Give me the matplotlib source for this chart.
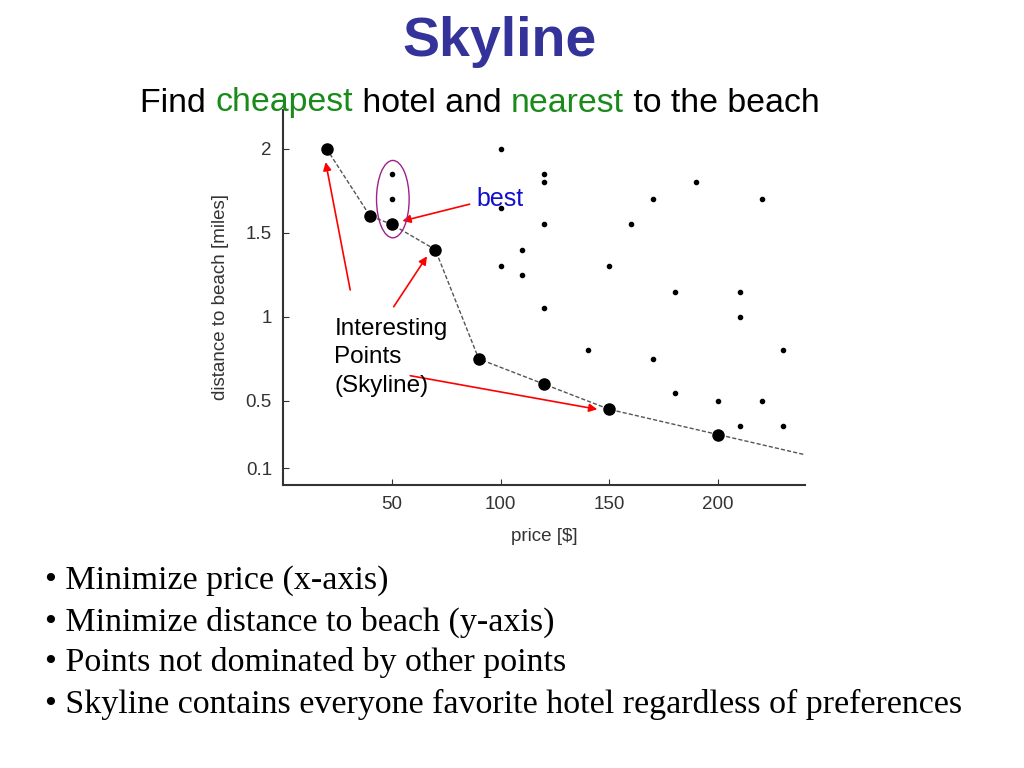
import matplotlib.pyplot as plt
from matplotlib.patches import Ellipse

# skyline hotels (price, distance)
sky_price = [20, 40, 50, 70, 90, 120, 150, 200]
sky_dist = [2.0, 1.6, 1.55, 1.4, 0.75, 0.6, 0.45, 0.3]
# dashed skyline runs on past the last hotel
line_price = sky_price + [240]
line_dist = sky_dist + [0.18]

# the other (dominated) hotels
other_price = [100, 50, 50, 120, 120, 190, 170, 220, 100, 120, 160, 110, 100, 110, 150,
               180, 210, 120, 210, 140, 230, 170, 180, 200, 220, 210, 230]
other_dist = [2.0, 1.85, 1.7, 1.85, 1.8, 1.8, 1.7, 1.7, 1.65, 1.55, 1.55, 1.4, 1.3, 1.25, 1.3,
              1.15, 1.15, 1.05, 1.0, 0.8, 0.8, 0.75, 0.55, 0.5, 0.5, 0.35, 0.35]

y_ticks = [0.1, 0.5, 1, 1.5, 2]
y_labels = ['0.1', '0.5', '1', '1.5', '2']
x_ticks = [50, 100, 150, 200]

subtitle = [('Find ', 'black'), ('cheapest', '#1a8a1a'), (' hotel and ', 'black'),
            ('nearest', '#1a8a1a'), (' to the beach', 'black')]

bullets = ['• Minimize price (x-axis)',
           '• Minimize distance to beach (y-axis)',
           '• Points not dominated by other points',
           '• Skyline contains everyone favorite hotel regardless of preferences']

plt.rcParams['font.family'] = ['Liberation Sans', 'DejaVu Sans']

fig = plt.figure(figsize=(10.24, 7.68), dpi=100)
W, H = 1024, 768
renderer = fig.canvas.get_renderer()

# title
fig.text(500 / W, 1 - 42 / H, 'Skyline', ha='center', va='center', fontsize=40,
         fontweight='bold', color='#333399')

# subtitle, coloured word by word
x = 140
for s, c in subtitle:
    t = fig.text(x / W, 1 - 103 / H, s, ha='left', va='center', fontsize=24.4, color=c)
    x = t.get_window_extent(renderer).x1

ax = fig.add_axes([283 / W, 1 - 485 / H, (805 - 283) / W, (485 - 110) / H])
ax.set_xlim(0, 240)
ax.set_ylim(0, 2.23)

ax.plot(line_price, line_dist, color='#555555', lw=1, linestyle=(0, (3, 1.5)), zorder=2)
ax.plot(sky_price, sky_dist, 'o', color='black', markersize=8, zorder=3)
ax.plot(other_price, other_dist, 'o', color='black', markersize=3, zorder=3)

ax.add_patch(Ellipse((50.5, 1.70), 15, 0.46, fill=False, edgecolor='#a0208a', lw=1, zorder=4))

for sp in ['top', 'right']:
    ax.spines[sp].set_visible(False)
for sp in ['left', 'bottom']:
    ax.spines[sp].set_linewidth(1.5)
    ax.spines[sp].set_color('#333333')
ax.set_xticks(x_ticks)
ax.set_yticks(y_ticks)
ax.set_yticklabels(y_labels)
ax.tick_params(direction='in', length=4, labelsize=13.5, labelcolor='#333333',
               color='#333333', pad=8)
ax.set_xlabel('price [$]', fontsize=13.5, color='#333333', labelpad=11)
ax.set_ylabel('distance to beach [miles]', fontsize=13.5, color='#333333', labelpad=12)

arrow = dict(arrowstyle='-|>', color='red', lw=1.2, mutation_scale=12, shrinkA=0, shrinkB=0)
ax.annotate('', xy=(19.6, 1.92), xytext=(30.9, 1.16), arrowprops=arrow)
ax.annotate('', xy=(66.2, 1.36), xytext=(50.9, 1.06), arrowprops=arrow)
ax.annotate('', xy=(144.5, 0.45), xytext=(58.5, 0.65), arrowprops=arrow)
ax.annotate('', xy=(54.9, 1.57), xytext=(85.8, 1.67), arrowprops=arrow)

ax.text(23.6, 0.995, 'Interesting\nPoints\n(Skyline)', ha='left', va='top', fontsize=17.5,
        linespacing=1.4)
ax.text(89, 1.66, 'best', ha='left', va='baseline', fontsize=18, color='#1010cc')

for i, b in enumerate(bullets):
    fig.text(45 / W, 1 - (581 + 41 * i) / H, b, ha='left', va='center', fontsize=24.5,
             family='Liberation Serif')

fig.savefig('out.png', dpi=100)
